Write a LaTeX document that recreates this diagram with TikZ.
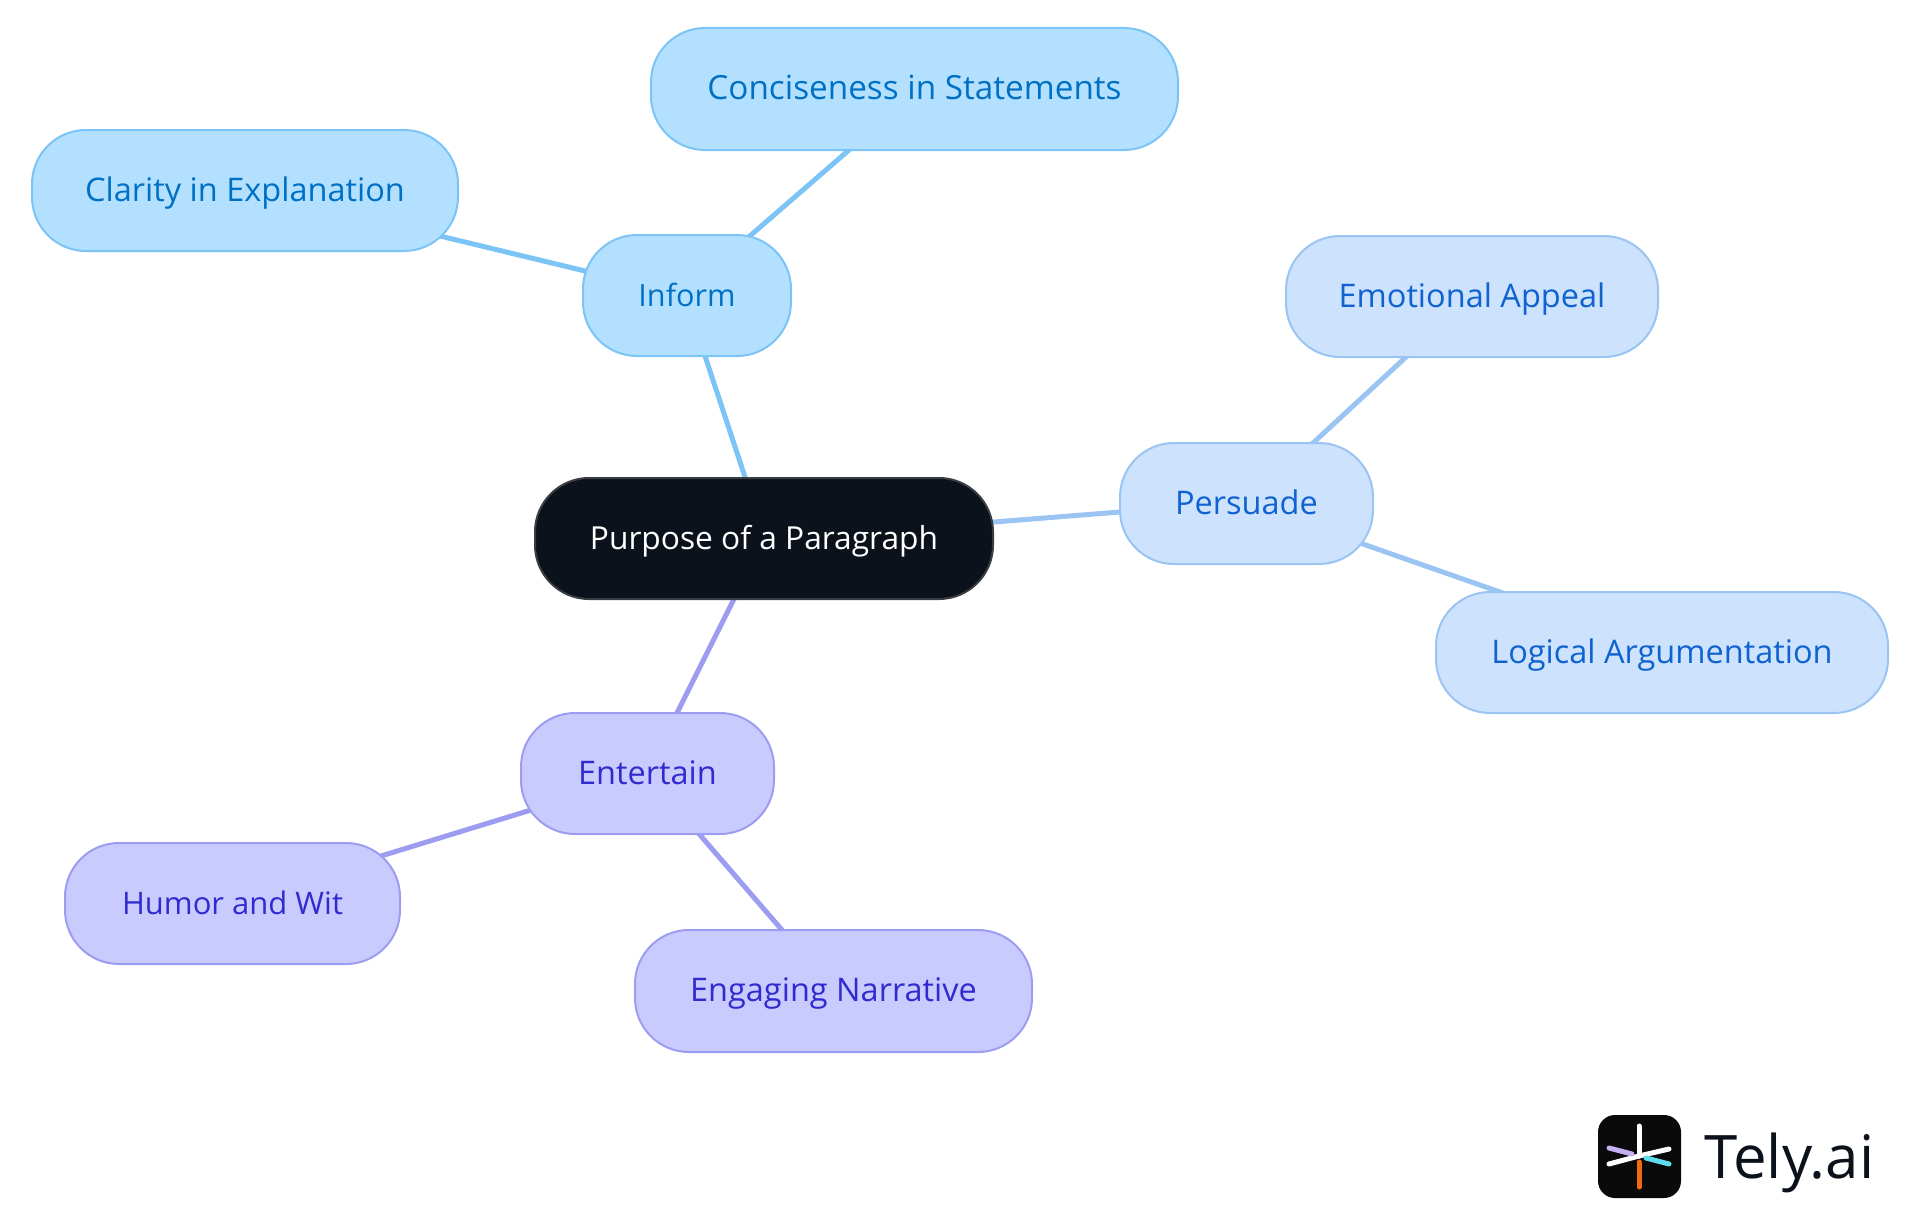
\documentclass[tikz,border=0pt]{standalone}
\usepackage{fontspec}
\setmainfont{Open Sans}
\usetikzlibrary{calc}
\pgfdeclarelayer{edges}
\pgfsetlayers{edges,main}
\definecolor{infF}{HTML}{B3E0FF}\definecolor{infD}{HTML}{7CC4F5}\definecolor{infT}{HTML}{0070C4}
\definecolor{perF}{HTML}{CCE2FD}\definecolor{perD}{HTML}{9AC4F2}\definecolor{perT}{HTML}{0F62D0}
\definecolor{entF}{HTML}{C9CBFF}\definecolor{entD}{HTML}{9C9DF0}\definecolor{entT}{HTML}{2F2BCF}
\definecolor{rootF}{HTML}{0C121B}\definecolor{rootD}{HTML}{3A3D42}
\definecolor{logoBg}{HTML}{0A0A0A}\definecolor{logoP}{HTML}{C4B0F5}\definecolor{logoC}{HTML}{5FDDEE}\definecolor{logoO}{HTML}{F26A0F}
\tikzset{
  x=1pt,y=-1pt,
  mapbox/.style={rectangle,rounded corners=54pt,line width=2pt,inner sep=0pt,font=\fontsize{32.5}{36}\selectfont,text height=26pt,text depth=5pt,anchor=center},
  inf/.style={mapbox,draw=infD,fill=infF,text=infT},
  per/.style={mapbox,draw=perD,fill=perF,text=perT},
  ent/.style={mapbox,draw=entD,fill=entF,text=entT},
  rootbox/.style={mapbox,draw=rootD,fill=rootF,text=white,font=\fontsize{31.7}{36}\selectfont},
  conn/.style={line width=5pt,shorten <=-8pt,shorten >=-8pt},
  ray/.style={line width=5pt,line cap=round},
  logobox/.style={rectangle,rounded corners=17pt,fill=logoBg,inner sep=0pt,minimum width=83pt,minimum height=83pt},
  logotext/.style={inner sep=0pt,anchor=base west,text=rootF,font=\fontsize{60}{62}\selectfont}
}
\newcommand{\mapnode}[7]{\node[#1,minimum width=#6pt-#4pt,minimum height=#7pt-#5pt] (#2) at ({(#4+#6)/2},{(#5+#7)/2}) {#3};}
\newcommand{\link}[5]{\draw[conn,#1] ([shift={#3}]#2.center) -- ([shift={#5}]#4.center);}
\begin{document}
\begin{tikzpicture}
\useasboundingbox (0,0) rectangle (1920,1215);
\mapnode{rootbox}{root}{Purpose of a Paragraph}{535}{478}{993}{599}
\mapnode{inf,font=\fontsize{30.6}{36}\selectfont}{inform}{Inform}{583}{235}{791}{356}
\mapnode{inf,font=\fontsize{33.3}{36}\selectfont}{concise}{Conciseness in Statements}{651}{28}{1178}{150}
\mapnode{inf}{clarity}{Clarity in Explanation}{32}{130}{458}{251}
\mapnode{per}{persuade}{Persuade}{1120}{443}{1373}{564}
\mapnode{per}{emotional}{Emotional Appeal}{1286}{236}{1658}{357}
\mapnode{per}{logical}{Logical Argumentation}{1436}{592}{1888}{713}
\mapnode{ent}{entertain}{Entertain}{521}{713}{774}{834}
\mapnode{ent,font=\fontsize{31}{36}\selectfont}{humor}{Humor and Wit}{65}{843}{400}{964}
\mapnode{ent}{engaging}{Engaging Narrative}{635}{930}{1032}{1052}
\begin{pgfonlayer}{edges}
\link{infD}{root}{{(-19,-61.5)}}{inform}{{(18,60.5)}}
\link{infD}{inform}{{(64,-60.5)}}{concise}{{(-65.5,61)}}
\link{infD}{inform}{{(-102,-24.5)}}{clarity}{{(195,45.5)}}
\link{perD}{root}{{(230,-16.5)}}{persuade}{{(-126.5,8.5)}}
\link{perD}{persuade}{{(66.5,-60.5)}}{emotional}{{(-66,60.5)}}
\link{perD}{persuade}{{(113.5,39.5)}}{logical}{{(-165,-61.5)}}
\link{entD}{root}{{(-30.5,61.5)}}{entertain}{{(29.5,-60.5)}}
\link{entD}{entertain}{{(-116.5,36.5)}}{humor}{{(148.5,-47.5)}}
\link{entD}{entertain}{{(52.5,61.5)}}{engaging}{{(-51.5,-61)}}
\end{pgfonlayer}
% logo
\node[logobox] (logo) at (1639.5,1156.5) {};
\coordinate (hub) at (1639,1156);
\draw[ray,white] (hub) -- (1639,1126);
\draw[ray,white] (hub) -- (1669,1149);
\draw[ray,white] (hub) -- (1609,1164);
\draw[ray,logoP] (1632,1154) -- (1609,1148);
\draw[ray,logoC] (1646,1158) -- (1669,1164);
\draw[ray,logoO] (1639,1162) -- (1639,1187);
\node[logotext] (brand) at (1704,1178) {Tely.ai};
\end{tikzpicture}
\end{document}
